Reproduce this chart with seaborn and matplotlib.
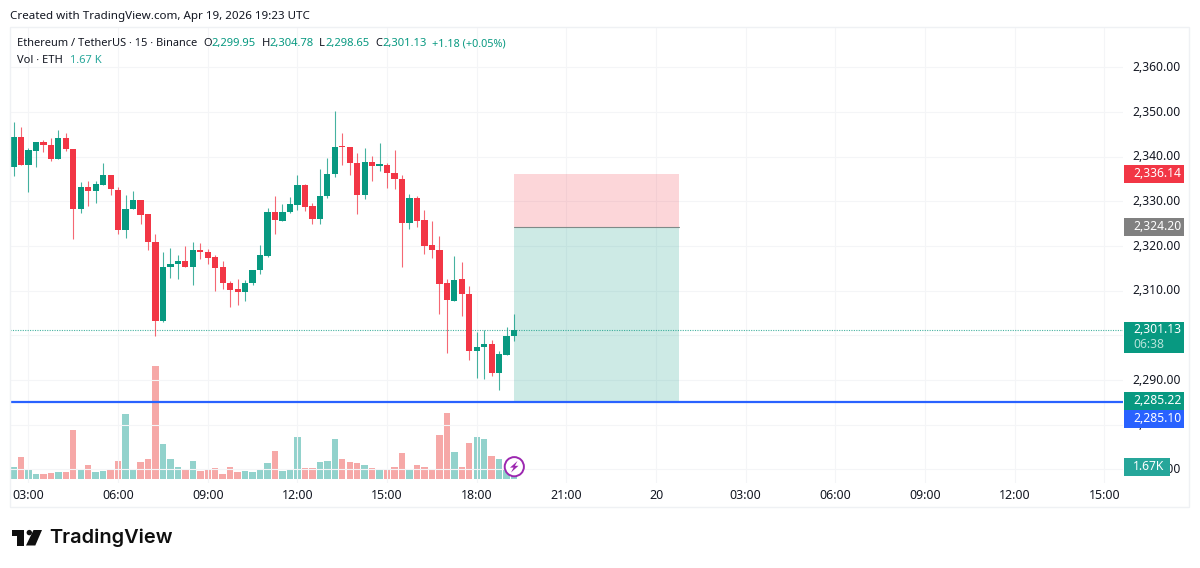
import numpy as np
import pandas as pd
import matplotlib
matplotlib.use("Agg")
import matplotlib.pyplot as plt
from matplotlib.patches import Rectangle, Polygon, Circle
from matplotlib.transforms import ScaledTranslation
import seaborn as sns

# 15-minute ETH/USDT candles, first bar at 02:30
opens = [2337.77,2344.49,2338.15,2341.35,2343.30,2342.70,2339.56,2344.19,2341.80,2328.37,
         2333.22,2332.25,2333.74,2335.91,2332.62,2323.59,2328.22,2330.23,2327.10,2320.90,
         2303.14,2315.31,2315.90,2316.57,2315.31,2319.11,2318.66,2317.47,2315.23,2311.72,
         2310.30,2309.78,2311.72,2314.56,2317.84,2327.55,2325.68,2327.55,2329.26,2333.67,
         2328.89,2326.13,2331.13,2336.20,2342.33,2342.10,2338.59,2331.50,2338.89,2337.99,
         2338.07,2336.35,2335.01,2325.08,2330.68,2325.75,2320.15,2319.03,2311.65,2307.76,
         2312.54,2309.26,2296.57,2297.31,2297.99,2291.64,2295.67,2299.95]
highs = [2347.70,2346.73,2341.88,2343.22,2343.74,2344.12,2345.98,2345.31,2341.80,2334.26,
         2334.49,2334.49,2338.67,2335.91,2333.14,2331.43,2332.32,2330.23,2327.10,2322.62,
         2318.59,2319.49,2317.99,2320.08,2320.90,2320.60,2319.26,2317.92,2316.57,2312.17,
         2312.69,2312.39,2314.63,2320.23,2328.59,2331.20,2329.41,2330.98,2335.91,2333.97,
         2329.64,2337.17,2339.71,2350.24,2345.31,2342.10,2340.90,2341.87,2340.16,2342.99,
         2338.52,2341.50,2335.90,2331.57,2331.28,2327.99,2325.60,2322.24,2312.54,2317.77,
         2316.35,2311.05,2300.75,2301.20,2298.88,2296.49,2301.79,2304.78]
lows = [2335.68,2338.15,2332.17,2337.62,2341.13,2338.97,2339.56,2341.28,2321.65,2327.47,
        2328.96,2329.71,2333.74,2331.50,2322.62,2321.87,2328.22,2325.01,2319.19,2299.93,
        2302.92,2312.92,2312.62,2315.31,2311.27,2317.10,2315.90,2310.01,2310.45,2306.42,
        2306.72,2307.62,2311.35,2313.81,2317.54,2322.77,2325.68,2327.40,2328.07,2327.92,
        2325.01,2325.01,2330.83,2335.38,2338.22,2335.98,2327.25,2330.45,2334.49,2336.87,
        2332.99,2332.77,2315.30,2323.89,2324.33,2318.29,2317.24,2304.78,2296.12,2307.76,
        2304.33,2294.55,2290.52,2290.22,2290.90,2287.69,2295.67,2298.65]
closes = [2344.49,2338.15,2341.50,2343.22,2342.62,2339.56,2344.19,2341.73,2328.37,2333.22,
          2332.25,2333.82,2335.98,2332.70,2323.59,2328.29,2330.23,2327.02,2320.90,2303.21,
          2315.38,2315.98,2316.57,2315.31,2319.11,2318.59,2317.40,2315.16,2311.72,2310.16,
          2309.78,2311.80,2314.63,2317.99,2327.55,2325.83,2327.70,2329.34,2333.67,2328.82,
          2326.13,2331.28,2336.20,2342.25,2342.10,2338.59,2331.50,2338.89,2337.84,2338.14,
          2336.28,2334.93,2325.08,2330.68,2325.68,2320.08,2319.11,2311.57,2307.84,2312.39,
          2309.18,2296.57,2297.39,2297.99,2291.64,2295.75,2299.93,2301.13]
# Traded volume per bar, thousands of ETH
volumes = [1.59,2.96,1.41,0.71,0.66,0.84,0.97,0.97,6.54,1.33,1.86,0.97,1.06,1.33,2.43,8.66,1.33,
           2.30,2.70,15.03,4.69,2.65,1.64,1.33,2.39,1.11,1.33,1.50,0.75,1.64,0.97,1.11,0.97,
           1.24,2.17,3.80,1.11,1.37,5.57,1.50,1.50,2.30,2.48,5.39,2.74,2.30,2.21,1.90,1.50,
           1.41,1.33,1.64,3.45,1.24,1.86,1.68,1.24,5.92,8.84,3.62,1.64,4.86,5.57,5.30,3.09,
           2.65,1.24,1.67]

price_ticks = [2270, 2280, 2290, 2300, 2310, 2320, 2330, 2340, 2350, 2360]
time_labels = ["03:00","06:00","09:00","12:00","15:00","18:00","21:00","20",
               "03:00","06:00","09:00","12:00","15:00"]
stop_price = 2336.14
entry_price = 2324.20
target_price = 2285.22
level_price = 2285.10
last_price = 2301.13
last_volume_label = "1.67 K"
countdown = "06:38"

UP = "#089981"
DOWN = "#f23645"
INK = "#131722"
FONT = "Noto Sans"

W, H = 1200, 568
PLOT_L, PLOT_R, PLOT_T, PLOT_B = 10, 1123, 27, 483

sns.set_theme(style="white")
plt.rcParams["font.family"] = [FONT, "DejaVu Sans"]

fig = plt.figure(figsize=(W / 100, H / 100), dpi=100, facecolor="white")
rect = [PLOT_L / W, 1 - PLOT_B / H, (PLOT_R - PLOT_L) / W, (PLOT_B - PLOT_T) / H]
ax_vol = fig.add_axes(rect, zorder=1)
ax = fig.add_axes(rect, zorder=2)
ax.patch.set_visible(False)

idx = np.arange(len(opens))
o, h, l, c = map(np.array, (opens, highs, lows, closes))
rising = c >= o
xlim = (-0.47, 148.5)

# Volume pane along the bottom of the chart
frame = pd.DataFrame({"bar": idx, "vol": volumes, "dir": np.where(rising, "up", "down")})
sns.barplot(data=frame, x="bar", y="vol", hue="dir", dodge=False, native_scale=True,
            palette={"up": "#26a69a", "down": "#ef5350"}, width=0.86, alpha=0.5,
            saturation=1, legend=False, ax=ax_vol, linewidth=0)
ax_vol.set_xlim(*xlim)
ax_vol.set_ylim(-0.49, 59.9)
ax_vol.axis("off")
ax_vol.patch.set_visible(True)

# Grid
ax.set_xlim(*xlim)
ax.set_ylim(2266.94, 2369.04)
time_ticks = np.arange(2, 150, 12)
for t in time_ticks:
    ax.axvline(t, color="#f4f5f7", lw=0.8, zorder=0)
for p in price_ticks:
    ax.axhline(p, color="#f4f5f7", lw=0.8, zorder=0)

# Long position box
ax.add_patch(Rectangle((67, entry_price), 22.05, stop_price - entry_price, fc=DOWN, alpha=0.2, lw=0, zorder=1))
ax.add_patch(Rectangle((67, target_price), 22.05, entry_price - target_price, fc=UP, alpha=0.2, lw=0, zorder=1))
ax.plot([67, 89.05], [entry_price, entry_price], color="#7f8a88", lw=0.8, zorder=1.5)

# Last price and horizontal level
ax.axhline(last_price, color=UP, lw=0.8, ls=(0, (1, 1.2)), alpha=0.75, zorder=1.5)
ax.axhline(level_price, color="#2962ff", lw=1.6, zorder=4)

# Candles
colors = np.where(rising, UP, DOWN)
ax.vlines(idx, l, h, colors=colors, lw=0.8, zorder=2, alpha=0.75)
ax.bar(idx, np.maximum(np.abs(c - o), 0.3), bottom=np.minimum(o, c), width=0.84,
       color=colors, lw=0, zorder=3)

ax.set_xticks(time_ticks)
ax.set_xticklabels(time_labels, fontsize=8.9, color=INK)
ax.get_xticklabels()[7].set_fontweight("bold")
ax.yaxis.tick_right()
ax.set_yticks(price_ticks)
# The 2,300 label sits fully behind the last-price tag, so it stays blank
ax.set_yticklabels(["" if p == 2300 else f"{p:,.2f}" for p in price_ticks], fontsize=8.7, color=INK)
ax.tick_params(axis="x", length=0, pad=4)
ax.tick_params(axis="y", length=0, pad=6.6)
nudge_up = ScaledTranslation(0, 1.2 / 100, fig.dpi_scale_trans)
for label in ax.get_yticklabels():
    label.set_transform(label.get_transform() + nudge_up)
for s in ax.spines.values():
    s.set_visible(False)

# Overlay in pixel coordinates for the frame, price tags, header and logo
ov = fig.add_axes([0, 0, 1, 1], zorder=5)
ov.set_xlim(0, W)
ov.set_ylim(H, 0)
ov.axis("off")
ov.patch.set_visible(False)
ov.add_patch(Rectangle((10, 27), 1179, 480, fc="none", ec="#eff1f4", lw=1))


def price_y(price):
    return H - ax.transData.transform((0, price))[1]


def tag(y0, y1, color, x1=1184.3, lw=0):
    ov.add_patch(Rectangle((1124.3, y0), x1 - 1124.3, y1 - y0, fc=color, lw=lw, zorder=3))


def tag_text(text, y, color="white"):
    ov.text(1133, y, text, color=color, fontsize=8.7, va="center", ha="left", zorder=4)


yy = price_y(stop_price)
tag(yy - 9, yy + 9, DOWN)
tag_text(f"{stop_price:,.2f}", yy - 0.5)
yy = price_y(entry_price)
tag(yy - 9, yy + 9, "#808080")
tag_text(f"{entry_price:,.2f}", yy - 0.5)
yy = price_y(last_price)
tag(yy - 8.5, yy + 23, UP)
tag_text(f"{last_price:,.2f}", yy - 0.5)
tag_text(countdown, yy + 14, "#b5e3d9")
yy = price_y(target_price)
tag(yy - 9, yy + 9, UP)
tag_text(f"{target_price:,.2f}", yy - 0.5)
tag(yy + 9, yy + 26.5, "#2962ff")
tag_text(f"{level_price:,.2f}", yy + 17)
tag(458, 475.5, "#26a69a", x1=1170)
tag_text("1.67 K".replace(" ", ""), 466.2)

# Top caption
ov.text(10, 16, "Created with TradingView.com, Apr 19, 2026 19:23 UTC", fontsize=8.35, color=INK, va="center")

# Legend lines
ROW1, ROW2 = 43.5, 60.5
ov.text(17, ROW1, "Ethereum / TetherUS · 15 · Binance", fontsize=7.95, color=INK, va="center")
for letter, xl, value, xv in [("O", 203.5, opens[-1], 211), ("H", 262, highs[-1], 269),
                              ("L", 319, lows[-1], 325), ("C", 375, closes[-1], 382)]:
    ov.text(xl, ROW1, letter, fontsize=8, color=INK, va="center")
    ov.text(xv, ROW1, f"{value:,.2f}", fontsize=8.1, color=UP, va="center")
change = closes[-1] - opens[-1]
ov.text(432.5, ROW1, f"{change:+.2f} ({change / opens[-1] * 100:+.2f}%)", fontsize=7.8, color=UP, va="center")
ov.text(17, ROW2, "Vol · ETH", fontsize=8, color=INK, va="center")
ov.text(70, ROW2, last_volume_label, fontsize=8, color="#26a69a", va="center")

# Lightning badge on the newest bar
ov.add_patch(Circle((514.3, 466.7), 9.6, fc="white", ec="#9c27b0", lw=1.4, zorder=3))
ov.add_patch(Polygon([(517.5, 461), (510, 467.6), (513.6, 467.6), (511, 472.5), (518.5, 465.8), (514.9, 465.8)],
                     closed=True, fc="#9c27b0", lw=0, zorder=4))

# Wordmark
ov.add_patch(Polygon([(12, 530), (24, 530), (24, 545.5), (17.3, 545.5), (17.3, 536), (12, 536)],
                     closed=True, fc="#0f0f0f", lw=0))
ov.add_patch(Circle((29.3, 532.6), 2.7, fc="#0f0f0f", lw=0))
ov.add_patch(Polygon([(33.5, 530), (42, 530), (35.3, 545.5), (26, 545.5)], closed=True, fc="#0f0f0f", lw=0))
ov.text(49.5, 537.5, "TradingView", fontsize=14.4, fontfamily="Inter", fontweight=600, color="#0f0f0f", va="center")

fig.savefig("out.png", dpi=100)
